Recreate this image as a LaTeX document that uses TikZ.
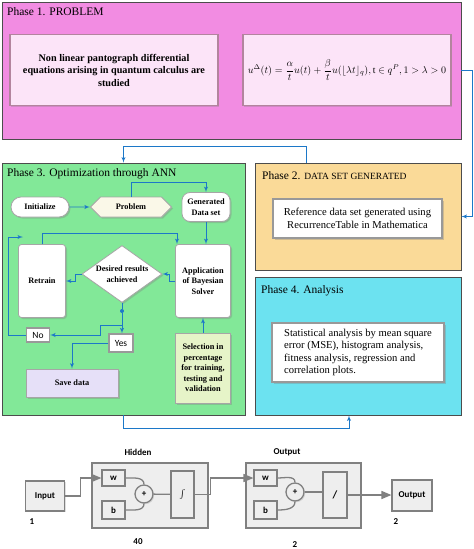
\documentclass[tikz,border=0pt]{standalone}
\usepackage{amsmath,amssymb}
\usepackage{fontspec}
\setmainfont{Liberation Serif}
\newfontfamily\annfont{Carlito}
\usepackage{xcolor}
\usetikzlibrary{shapes}
\usetikzlibrary{arrows}
\usetikzlibrary{shadows}
\tikzset{
  font={\fontsize{9pt}{11}\selectfont}}

\definecolor{phaseone}{RGB}{242,140,226}
\definecolor{phasetwo}{RGB}{250,218,152}
\definecolor{phasethree}{RGB}{130,232,152}
\definecolor{phasefour}{RGB}{108,226,240}
\definecolor{flowblue}{RGB}{28,120,200}
\definecolor{pinkbox}{RGB}{252,228,248}
\definecolor{savebox}{RGB}{230,224,248}
\definecolor{selbox}{RGB}{230,244,200}
\definecolor{creambox}{RGB}{250,248,232}
\definecolor{anngray}{RGB}{128,128,128}
\definecolor{annfill}{RGB}{238,238,238}

\begin{document}
\begin{tikzpicture}[x=1pt, y=-1pt]

    \tikzset{flow/.style = {->, > = latex', draw=flowblue, line width=0.9pt},
             annline/.style = {draw=anngray, line width=1.3pt},
             annarrow/.style = {annline, ->, > = triangle 45},
             phase/.style = {draw=black!70, line width=0.8pt, inner sep=0pt},
             phasetitle/.style = {anchor=north west, inner sep=0pt, font={\fontsize{11.5pt}{13}\selectfont}},
             pinkcell/.style = {draw=black!55!magenta!60, line width=1.2pt, fill=pinkbox, inner sep=0pt,
                                drop shadow={opacity=0.3, shadow xshift=1pt, shadow yshift=-1pt}},
             whitecell/.style = {draw=gray!80, line width=1.5pt, fill=white, inner sep=0pt,
                                 drop shadow={opacity=0.35, shadow xshift=1.5pt, shadow yshift=-1.5pt}},
             stepbox/.style = {draw=gray!70, line width=0.8pt, fill=white, inner sep=1pt, align=center,
                               font={\fontsize{8.3pt}{10.5}\selectfont\bfseries},
                               drop shadow={opacity=0.35, shadow xshift=1.5pt, shadow yshift=-1.5pt}},
             answer/.style = {draw=gray!80, line width=1.2pt, fill=white, inner sep=0pt,
                              font={\annfont\fontsize{9.5pt}{10}\selectfont}},
             annbox/.style = {draw=anngray, line width=1.3pt, fill=annfill, inner sep=0pt,
                              font={\annfont\fontsize{9pt}{10}\selectfont\bfseries},
                              drop shadow={opacity=0.25, shadow xshift=1.2pt, shadow yshift=-1.2pt}},
             annlabel/.style = {inner sep=0pt, font={\annfont\fontsize{9pt}{10}\selectfont\bfseries}}}

    \useasboundingbox (0,0) rectangle (474,549);

    % phases
    \node[phase, fill=phaseone, minimum width=459, minimum height=137] (p1) at (231.5,70.5) {};
    \node[phasetitle] at (7,7) {Phase 1. PROBLEM};
    \node[phase, fill=phasetwo, minimum width=206, minimum height=107] (p2) at (358,216.5) {};
    \node[phasetitle] at (262,171) {Phase 2. {\fontsize{9.5pt}{11}\selectfont DATA SET GENERATED}};
    \node[phase, fill=phasethree, minimum width=243, minimum height=252] (p3) at (123.5,289) {};
    \node[phasetitle] at (7,168) {Phase 3. Optimization through ANN};
    \node[phase, fill=phasefour, minimum width=206, minimum height=138] (p4) at (358,346) {};
    \node[phasetitle] at (261,285) {Phase 4. Analysis};

    % phase 1 and 2 cells
    \node[pinkcell, minimum width=208, minimum height=71, align=center,
          font={\fontsize{10.2pt}{12.5}\selectfont\bfseries}] (topic) at (114,70)
          {Non linear pantograph differential\\ equations arising in quantum calculus are\\ studied};
    \node[pinkcell, minimum width=208, minimum height=71] (eqn) at (347,70)
          {\fontsize{9.6pt}{11}\selectfont $u^{\Delta}(t)=\dfrac{\alpha}{t}u(t)+\dfrac{\beta}{t}u(\lfloor \lambda t\rfloor_q),\mathrm{t}\in q^{P},1>\lambda>0$};
    \node[whitecell, minimum width=169, minimum height=39, align=center,
          font={\fontsize{10.6pt}{12.5}\selectfont}] (refdata) at (357.5,218.5)
          {Reference data set generated using\\ RecurrenceTable in Mathematica};
    \node[whitecell, minimum width=172, minimum height=59, align=left,
          font={\fontsize{10.6pt}{12.5}\selectfont}] (stats) at (358,352.5)
          {Statistical analysis by mean square\\ error (MSE), histogram analysis,\\ fitness analysis, regression and\\ correlation plots.};

    % phase 3 steps
    \node[stepbox, rounded rectangle, minimum width=60, minimum height=20] (init) at (40,207) {Initialize};
    \node[stepbox, signal, signal to=east and west, fill=creambox, minimum width=81, minimum height=20, inner xsep=4pt] (prob) at (131,207) {Problem};
    \node[stepbox, rounded corners=8pt, minimum width=48, minimum height=29] (gen) at (206,207) {Generated\\Data set};
    \node[stepbox, rounded corners=3pt, minimum width=47, minimum height=73] (retrain) at (42,281) {Retrain};
    \node[stepbox, rounded corners=3pt, minimum width=55, minimum height=73] (appl) at (203,281) {Application\\of Bayesian\\Solver};
    \node[stepbox, diamond, aspect=1.45, inner sep=0pt, minimum width=80, minimum height=57] (desired) at (122,274) {Desired results\\achieved};
    \node[circle, fill=flowblue, inner sep=0pt, minimum size=4pt] (split) at (122,311) {};
    \coordinate (fork) at (122,325);
    \node[answer, minimum width=23, minimum height=14] (no) at (38,335) {No};
    \node[answer, minimum width=24, minimum height=18] (yes) at (121,343) {Yes};
    \node[stepbox, fill=savebox, minimum width=92, minimum height=28] (save) at (72,383) {Save data};
    \node[stepbox, fill=selbox, minimum width=55, minimum height=70] (sel) at (203,368)
          {Selection in\\percentage\\for training,\\testing and\\validation};
    \coordinate (loopend) at (23,237);

    % phase connectors
    \draw[flow] (p1.east) -- ++(11,0) |- (p2.east);
    \draw[flow] ([xshift=-52pt]p2.north) -- ++(0,-16) -| (p3.north);
    \draw[flow] (p3.south) -- ++(0,13) -| ([xshift=-9pt]p4.south);

    % phase 3 connectors
    \draw[flow] (init) to (prob);
    \draw[flow] (prob.north) -- ++(0,-14) -| (gen.north);
    \draw[flow] (gen.south) -- (gen.south |- appl.north);
    \draw[flow] (retrain.north) -- ++(0,-11) -| ([xshift=-26pt]appl.north);
    \draw[flow] (appl.west) -- ++(-6,0) |- (desired.east);
    \draw[flow] (desired.west) -- ++(-6,0) |- (retrain.east);
    \draw[flow, -] (desired.south) -- (split);
    \draw[flow] (split) -- (split |- yes.north);
    \draw[flow] (fork) -- ++(-22,0) |- (no.east);
    \draw[flow] (no.west) -- ++(-17,0) |- (loopend);
    \draw[flow] (yes.west) -| (save.north);
    \draw[flow] (sel) to (appl);

    % network
    \node[annlabel] at (138,452) {Hidden};
    \node[annlabel] at (287,452) {Output};
    \node[annbox, minimum width=39, minimum height=30] (in) at (45,496) {Input};
    \node[annbox, minimum width=116, minimum height=65] (hid) at (150,495.5) {};
    \node[annbox, minimum width=23, minimum height=16] (w1) at (113.5,478) {w};
    \node[annbox, minimum width=23, minimum height=18] (b1) at (113.5,510) {b};
    \node[annbox, circle, minimum size=18] (plus1) at (144,494) {+};
    \node[annbox, minimum width=23, minimum height=47] (f1) at (182.5,494.5) {$\int$};
    \node[annbox, minimum width=115, minimum height=65] (outl) at (303.5,495.5) {};
    \node[annbox, minimum width=23, minimum height=16] (w2) at (265.5,478) {w};
    \node[annbox, minimum width=23, minimum height=18] (b2) at (265.5,510) {b};
    \node[annbox, circle, minimum size=18] (plus2) at (295,492) {+};
    \node[annbox, minimum width=24, minimum height=46] (f2) at (335,495) {\fontsize{11pt}{12}\selectfont /};
    \node[annbox, minimum width=40, minimum height=31] (outp) at (412,495.5) {Output};
    \node[annlabel] at (32,522) {1};
    \node[annlabel] at (138,542) {40};
    \node[annlabel] at (295,545) {2};
    \node[annlabel] at (396,522) {2};

    \draw[annarrow] (in.east) -- ++(15,0) |- (w1.west);
    \draw[annline] (w1.east) to[out=0, in=90] (plus1.north);
    \draw[annline] (b1.east) to[out=0, in=-90] (plus1.south);
    \draw[annline] (plus1) -- (f1);
    \draw[annarrow] (f1.east) -- ++(16,0) |- (w2.west);
    \draw[annline] (w2.east) to[out=0, in=90] (plus2.north);
    \draw[annline] (b2.east) to[out=0, in=-90] (plus2.south);
    \draw[annline] (plus2) -- (plus2 -| f2.west);
    \draw[annarrow] (f2.east) -- (f2.east -| outp.west);

\end{tikzpicture}
\end{document}
